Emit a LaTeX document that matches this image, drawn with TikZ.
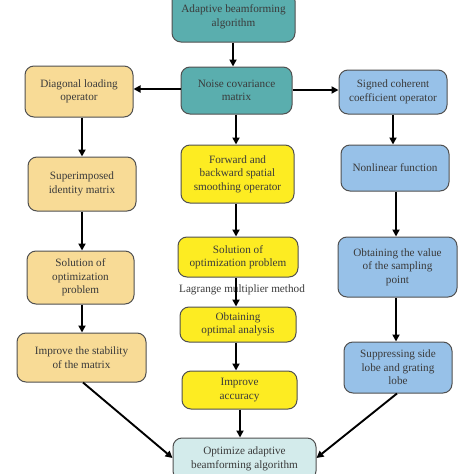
\documentclass[tikz,border=0pt]{standalone}
\usepackage{fontspec}
\setmainfont{Liberation Serif}
\usetikzlibrary{arrows.meta}
\definecolor{tealc}{HTML}{5AAEAE}
\definecolor{orangec}{HTML}{F8DB96}
\definecolor{yellowc}{HTML}{FDEC22}
\definecolor{bluec}{HTML}{97C1E8}
\definecolor{cyanc}{HTML}{D3EBEB}
\definecolor{borderc}{HTML}{505050}
\definecolor{textc}{HTML}{3A3A3A}
\tikzset{
  box/.style={draw=borderc, line width=1pt, rounded corners=9pt, align=center,
    text=textc, font=\fontsize{11.2}{13.5}\selectfont, inner sep=0pt},
  arr/.style={line width=1.9pt, -{Triangle[length=7pt,width=7pt]}},
}
\begin{document}
\begin{tikzpicture}[x=1pt,y=-1pt]
\useasboundingbox (0,0) rectangle (474,474);
\clip (0,0) rectangle (474,474);
% nodes
\node[box, fill=tealc, minimum width=123pt, minimum height=50pt] (top) at (233.5,17) {Adaptive beamforming\\algorithm};
\node[box, fill=tealc, minimum width=111pt, minimum height=47pt] (noise) at (236.5,90.5) {Noise covariance\\matrix};
\node[box, fill=orangec, minimum width=108pt, minimum height=51pt] (diag) at (79,91.5) {Diagonal loading\\operator};
\node[box, fill=bluec, minimum width=108pt, minimum height=44pt] (signed) at (393,92) {Signed coherent\\coefficient operator};
\node[box, fill=yellowc, minimum width=113pt, minimum height=58pt] (fwd) at (237.5,174) {Forward and\\backward spatial\\smoothing operator};
\node[box, fill=orangec, minimum width=108pt, minimum height=54pt] (sup) at (82,184) {Superimposed\\identity matrix};
\node[box, fill=bluec, minimum width=108pt, minimum height=46pt] (nonlin) at (395,168) {Nonlinear function};
\node[box, fill=yellowc, minimum width=120pt, minimum height=40pt] (solmid) at (238,257) {Solution of\\optimization problem};
\node[box, fill=orangec, minimum width=107pt, minimum height=53pt] (solleft) at (80.5,277.5) {Solution of\\optimization\\problem};
\node[box, fill=bluec, minimum width=119pt, minimum height=60pt] (obtval) at (397.5,267) {Obtaining the value\\of the sampling\\point};
\node[text=textc, font=\fontsize{11.2}{13.5}\selectfont, inner sep=0pt] (lag) at (242,290) {Lagrange multiplier method};
\node[box, fill=yellowc, minimum width=116pt, minimum height=35pt] (optan) at (238,324.5) {Obtaining\\optimal analysis};
\node[box, fill=orangec, minimum width=129pt, minimum height=49pt] (stab) at (81.5,357.5) {Improve the stability\\of the matrix};
\node[box, fill=yellowc, minimum width=115pt, minimum height=38pt] (acc) at (239.5,390) {Improve\\accuracy};
\node[box, fill=bluec, minimum width=108pt, minimum height=51pt] (supp) at (398,367.5) {Suppressing side\\lobe and grating\\lobe};
\node[box, fill=cyanc, minimum width=143pt, minimum height=42pt] (opt) at (244.5,459) {Optimize adaptive\\beamforming algorithm};
% connectors
\draw[arr] (top.south -| 233,0) -- (noise.north -| 233,0);
\draw[arr] (noise.west |- 0,89) -- (diag.east |- 0,89);
\draw[arr] (noise.east |- 0,90) -- (signed.west |- 0,90);
\draw[arr] (noise.south -| 236,0) -- (fwd.north -| 236,0);
\draw[arr] (diag.south -| 82,0) -- (sup.north -| 82,0);
\draw[arr] (signed.south -| 393,0) -- (nonlin.north -| 393,0);
\draw[arr] (fwd.south -| 236,0) -- (solmid.north -| 236,0);
\draw[arr] (sup.south -| 82,0) -- (solleft.north -| 82,0);
\draw[arr] (nonlin.south -| 396,0) -- (obtval.north -| 396,0);
\draw[arr] (solmid.south -| 236,0) -- (optan.north -| 236,0);
\draw[arr] (solleft.south -| 82,0) -- (stab.north -| 82,0);
\draw[arr] (obtval.south -| 396,0) -- (supp.north -| 396,0);
\draw[arr] (optan.south -| 236,0) -- (acc.north -| 236,0);
\draw[arr] (acc.south -| 240,0) -- (opt.north -| 240,0);
\coordinate (sl) at (83,383);
\coordinate (sr) at (397,393);
\draw[arr] (stab.south -| sl) -- (opt.west |- 0,458);
\draw[arr] (supp.south -| sr) -- (opt.east |- 0,458);
\end{tikzpicture}
\end{document}
